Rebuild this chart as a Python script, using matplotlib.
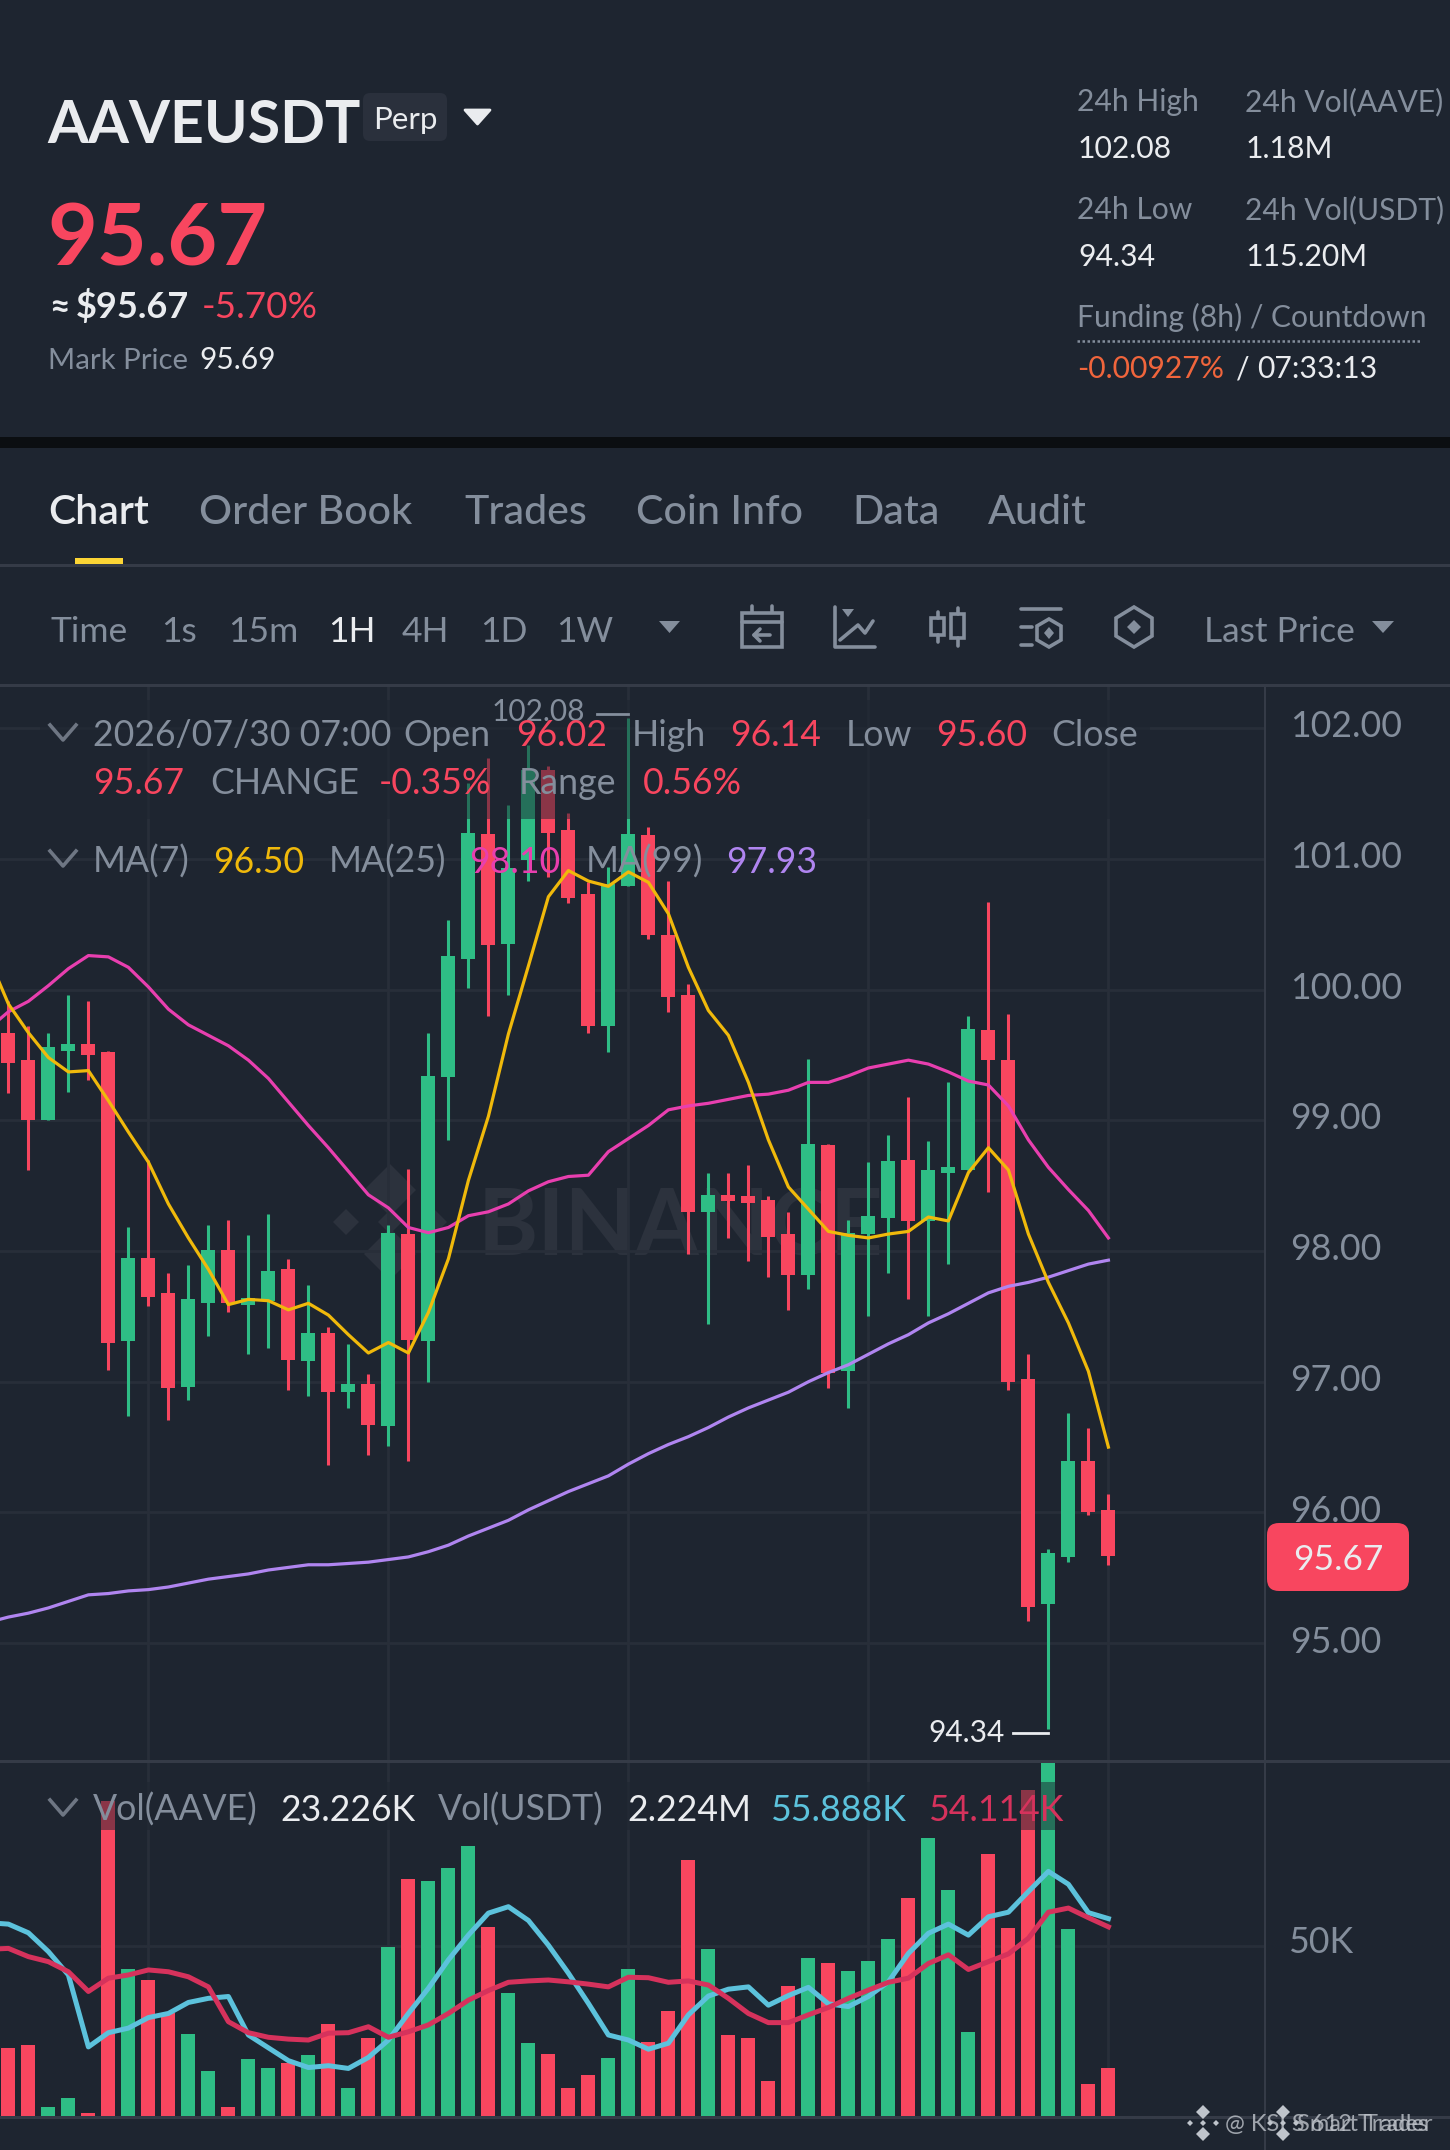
import numpy as np
import matplotlib
matplotlib.use("Agg")
import matplotlib.pyplot as plt
from matplotlib.patches import Rectangle, FancyBboxPatch, Polygon

# ---------- data ----------
opens = [99.67,99.46,99.00,99.53,99.58,99.52,97.31,97.95,97.68,96.96,97.60,98.01,97.59,97.62,97.86,97.16,97.37,96.92,96.98,96.66,98.13,97.31,99.33,100.23,101.19,100.35,100.99,101.68,101.22,100.73,99.72,100.79,101.18,100.42,99.96,98.30,98.43,98.42,98.39,98.13,97.82,98.81,97.08,98.13,98.25,98.70,98.23,98.60,98.62,99.69,99.46,97.02,95.30,95.66,96.39,96.02]
highs = [99.91,99.72,99.67,99.96,99.91,99.53,98.18,98.70,97.83,97.89,98.20,98.24,98.12,98.28,97.94,97.74,97.42,97.29,97.06,98.20,98.63,99.67,100.53,101.58,101.77,101.41,101.87,101.71,101.35,100.82,100.94,102.08,101.24,100.83,100.04,98.60,98.60,98.66,98.42,98.30,99.47,98.82,98.24,98.68,98.89,99.18,98.84,99.29,99.80,100.67,99.81,97.21,95.72,96.76,96.65,96.14]
lows = [99.21,98.62,99.00,99.22,99.31,97.09,96.74,97.58,96.71,96.86,97.35,97.53,97.21,97.26,96.94,96.89,96.36,96.80,96.44,96.51,96.39,97.00,98.85,100.01,99.80,99.96,100.83,100.86,100.66,99.67,99.52,100.79,100.39,99.83,97.98,97.44,98.10,97.92,97.80,97.55,97.71,96.95,96.80,97.50,97.83,97.63,97.50,97.90,98.62,98.45,96.94,95.17,94.34,95.62,95.98,95.60]
closes = [99.44,99.00,99.56,99.58,99.50,97.30,97.95,97.65,96.95,97.63,98.01,97.60,97.64,97.85,97.17,97.37,96.92,96.98,96.67,98.14,97.32,99.34,100.26,101.20,100.34,100.93,101.68,101.20,100.70,99.72,100.81,101.19,100.42,99.94,98.30,98.43,98.38,98.37,98.11,97.82,98.82,97.07,98.14,98.27,98.69,98.23,98.62,98.64,99.70,99.46,97.00,95.28,95.69,96.39,96.00,95.67]
ma7 = [100.25,99.89,99.67,99.48,99.37,99.38,99.15,98.91,98.68,98.36,98.10,97.86,97.59,97.63,97.62,97.55,97.60,97.51,97.36,97.22,97.30,97.22,97.53,97.94,98.54,99.03,99.66,100.18,100.71,100.91,100.83,100.79,100.90,100.82,100.58,100.17,99.84,99.65,99.29,98.85,98.49,98.32,98.15,98.12,98.10,98.13,98.15,98.26,98.23,98.60,98.79,98.62,98.13,97.76,97.45,97.08,96.50]
ma25 = [99.70,99.83,99.91,100.03,100.16,100.26,100.25,100.17,100.02,99.85,99.73,99.65,99.57,99.46,99.32,99.14,98.96,98.79,98.61,98.43,98.33,98.18,98.14,98.18,98.27,98.30,98.36,98.46,98.53,98.57,98.58,98.76,98.86,98.96,99.08,99.11,99.13,99.16,99.19,99.20,99.23,99.29,99.29,99.34,99.40,99.43,99.46,99.43,99.37,99.30,99.27,99.11,98.85,98.64,98.47,98.31,98.10]
ma99 = [95.16,95.20,95.23,95.27,95.32,95.37,95.38,95.40,95.41,95.43,95.46,95.49,95.51,95.53,95.56,95.58,95.60,95.60,95.61,95.62,95.64,95.66,95.70,95.75,95.82,95.88,95.94,96.02,96.09,96.16,96.22,96.28,96.37,96.45,96.52,96.58,96.65,96.73,96.80,96.86,96.92,97.00,97.07,97.13,97.21,97.29,97.36,97.45,97.52,97.60,97.68,97.73,97.76,97.80,97.85,97.90,97.93]
volumes = [27.6,28.3,14.7,16.7,13.4,81.6,44.8,42.6,35.2,30.7,22.6,14.8,25.3,23.4,24.3,26.1,32.9,18.9,29.8,49.6,64.5,64.0,67.0,71.8,54.1,39.6,28.7,26.3,18.9,21.7,25.5,44.8,29.0,35.7,68.7,49.3,30.5,29.9,20.4,41.2,47.3,46.3,44.5,46.7,51.5,60.4,73.4,62.2,31.2,70.0,53.9,83.9,91.0,53.6,19.7,23.2]
vol_ma7 = [55.0,54.7,52.8,48.7,43.6,27.9,31.0,32.0,34.3,35.2,37.6,38.5,38.9,30.5,27.7,24.9,23.4,23.8,23.2,25.6,29.4,35.2,40.7,46.9,52.3,57.1,58.5,55.5,50.1,44.0,37.4,30.5,29.4,27.4,28.7,34.9,39.0,40.5,41.0,37.0,39.1,40.9,37.3,36.7,38.9,42.1,48.3,52.7,54.7,52.3,56.3,57.3,61.8,66.2,63.4,57.2,55.9]
vol_ma25 = [49.2,49.4,47.6,46.5,44.3,40.0,42.9,43.6,44.7,44.3,43.2,41.0,33.4,31.0,30.0,29.6,29.4,30.9,31.0,32.3,30.0,31.2,32.7,35.2,38.1,40.2,42.0,42.3,42.5,42.1,41.6,41.0,43.1,43.0,42.0,42.3,41.4,38.5,35.2,33.2,33.2,34.9,36.5,38.5,40.3,42.0,42.9,46.1,48.0,44.8,46.5,48.2,51.6,57.3,58.2,56.1,54.1]
price_ticks = [102, 101, 100, 99, 98, 97, 96, 95]
price_labels = ["102.00", "101.00", "100.00", "99.00", "98.00", "97.00", "96.00", "95.00"]
vgrid_candles = [7, 19, 31, 43, 55]

BG = "#1E2530"; GRID = "#282E39"; SEP = "#353B47"
RED = "#F8465F"; GREEN = "#2EBD85"; GRAY = "#848E9C"; WHITE = "#EAECEF"
C7 = "#F0B90B"; C25 = "#E83FAF"; C99 = "#B085F0"; VC7 = "#5CC2DC"; VC25 = "#D6325C"

plt.rcParams["font.family"] = ["Lato", "DejaVu Sans"]
W, H = 1450, 2150
fig = plt.figure(figsize=(W / 100, H / 100), dpi=100, facecolor=BG)

def pane(x0, y0, x1, y1, z=1):
    a = fig.add_axes([x0 / W, 1 - y1 / H, (x1 - x0) / W, (y1 - y0) / H], zorder=z)
    a.set_facecolor("none")
    for s in a.spines.values():
        s.set_visible(False)
    a.tick_params(left=False, bottom=False, labelleft=False, labelbottom=False)
    return a

# ---------- price pane ----------
ax = pane(0, 686, 1265, 1761, 2)
ax.set_xlim(-0.42, 62.83)
ax.set_ylim(94.099, 102.322)
ax.set_yticks(price_ticks)
ax.set_xticks(vgrid_candles)
ax.grid(True, color=GRID, lw=2.0, zorder=0)
ax.set_axisbelow(True)

idx = np.arange(len(opens))
o, h, l, c = map(np.array, (opens, highs, lows, closes))
cols = [GREEN if cc >= oo else RED for oo, cc in zip(o, c)]
ax.vlines(idx, l, h, colors=cols, lw=2.2, zorder=3)
ax.bar(idx, np.abs(c - o), bottom=np.minimum(o, c), width=0.7, color=cols, zorder=3)
xma = np.arange(-1, 56)
ax.plot(xma, ma99, color=C99, lw=2.3, zorder=4, solid_joinstyle="round")
ax.plot(xma, ma25, color=C25, lw=2.3, zorder=4, solid_joinstyle="round")
ax.plot(xma, ma7, color=C7, lw=2.3, zorder=4, solid_joinstyle="round")

# ---------- volume pane ----------
av = pane(0, 1761, 1265, 2117, 2)
av.set_xlim(-0.42, 62.83)
av.set_ylim(12.6, 90.3)
av.set_yticks([50])
av.set_xticks(vgrid_candles)
av.grid(True, color=GRID, lw=2.0, zorder=0)
av.set_axisbelow(True)
av.bar(idx, volumes, width=0.7, color=cols, zorder=3)
av.plot(xma, vol_ma7, color=VC7, lw=3.6, zorder=4)
av.plot(xma, vol_ma25, color=VC25, lw=3.6, zorder=5)

# ---------- overlay in pixel coordinates ----------
bgax = pane(0, 0, W, H, 1)
bgax.set_xlim(0, W); bgax.set_ylim(H, 0)
ov = pane(0, 0, W, H, 5)
ov.set_xlim(0, W); ov.set_ylim(H, 0)

# watermark (under candles)
MARK = "#2C323D"
bgax.text(478, 1255, "BINANCE", fontsize=66, fontweight="bold", color=MARK, va="baseline", ha="left")
for cx, cy, s in [(390, 1190, 26), (346, 1222, 13), (434, 1222, 13), (390, 1222, 12), (390, 1254, 26)]:
    bgax.add_patch(Polygon([(cx - s, cy), (cx, cy - s), (cx + s, cy), (cx, cy + s)], color=MARK, lw=0))

def T(x, y, s, color=GRAY, size=25.7, **kw):
    kw.setdefault("va", "baseline"); kw.setdefault("ha", "left")
    return ov.text(x, y, s, color=color, fontsize=size, **kw)

# header
ov.add_patch(Rectangle((0, 437), W, 11, color="#0B0E11", lw=0))
T(47, 143, "AAVEUSDT", WHITE, 42.5, fontweight="bold")
ov.add_patch(FancyBboxPatch((363, 93), 84, 48, boxstyle="round,pad=0,rounding_size=7", color="#2A303C", lw=0))
T(405, 129, "Perp", WHITE, 22.5, ha="center")
ov.add_patch(Polygon([(465, 110), (490, 110), (477.5, 124)], color=WHITE, ec=WHITE, lw=2, joinstyle="round"))
T(47, 265, "95.67", RED, 62, fontweight="bold")
T(49, 318, "≈", WHITE, 25.5, fontweight="bold")
T(76, 318, "$95.67", WHITE, 26, fontweight="bold")
T(202, 318, "-5.70%", RED, 26.5)
T(48, 369, "Mark Price", GRAY, 21.2)
T(199, 369, "95.69", WHITE, 21.5)
for x, y, lab, val in [(1077, 111, "24h High", "102.08"), (1245, 111, "24h Vol(AAVE)", "1.18M"),
                       (1077, 219, "24h Low", "94.34"), (1245, 219, "24h Vol(USDT)", "115.20M")]:
    T(x, y, lab, GRAY, 21.6)
    T(x + 1, y + 47.5, val, WHITE, 21.7)
T(1077, 327, "Funding (8h) / Countdown", GRAY, 21.6)
ov.plot([1077, 1422], [341, 341], color=GRAY, lw=1.8, ls=(0, (1, 1)))
T(1077, 378, "-0.00927%", "#F0653C", 21.7)
T(1236, 378, "/", WHITE, 21.7)
T(1257, 378, "07:33:13", WHITE, 21.7)

# tabs
for x, s, col, wgt, sz in [(48, "Chart", WHITE, "semibold", 29.5), (199, "Order Book", GRAY, "medium", 29.6),
                           (464, "Trades", GRAY, "medium", 29.6), (636, "Coin Info", GRAY, "medium", 29.6),
                           (852, "Data", GRAY, "medium", 29.6), (988, "Audit", GRAY, "medium", 29.6)]:
    T(x, 524, s, col, sz, fontweight=wgt)
ov.add_patch(Rectangle((75, 558), 48, 8, color="#FCD535", lw=0))
ov.add_patch(Rectangle((0, 564), W, 3, color=SEP, lw=0))

# toolbar
for x, s, col in [(51, "Time", GRAY), (161, "1s", GRAY), (228, "15m", GRAY), (328, "1H", WHITE),
                  (402, "4H", GRAY), (480, "1D", GRAY), (556, "1W", GRAY), (1204, "Last Price", GRAY)]:
    T(x, 641.5, s, col, 25.5)
ov.add_patch(Polygon([(659, 621), (680, 621), (669.5, 633)], color=GRAY, lw=0))
ov.add_patch(Polygon([(1372, 621), (1394, 621), (1383, 633)], color=GRAY, lw=0))
ICON = dict(color=GRAY, lw=2.6, solid_capstyle="round")
# calendar
ov.add_patch(Rectangle((742, 613), 40, 34, fill=False, ec=GRAY, lw=2.6))
ov.plot([742, 782], [622, 622], **ICON)
ov.plot([752, 752], [606, 612], **ICON); ov.plot([772, 772], [606, 612], **ICON)
ov.plot([754, 770], [635, 635], **ICON); ov.plot([760, 754, 760], [629, 635, 641], **ICON)
# indicator
ov.plot([835, 835, 875], [607, 647, 647], **ICON)
ov.add_patch(Polygon([(842, 609), (854, 609), (848, 617)], color=GRAY, lw=0))
ov.plot([840, 858, 865, 873], [640, 625, 633, 621], **ICON)
# candles
for x, t, b, t2, b2 in [(938, 618, 635, 612, 642), (958, 614, 638, 608, 646)]:
    ov.add_patch(Rectangle((x - 6.5, t), 13, b - t, fill=False, ec=GRAY, lw=2.6))
    ov.plot([x, x], [t2, t], **ICON); ov.plot([x, x], [b, b2], **ICON)
# settings
ov.plot([1021, 1061], [609, 609], **ICON)
ov.plot([1021, 1032], [627, 627], **ICON); ov.plot([1021, 1032], [645, 645], **ICON)
ov.add_patch(Polygon([(1049, 619), (1061, 626), (1061, 640), (1049, 647), (1037, 640), (1037, 626)], fill=False, ec=GRAY, lw=2.6))
ov.add_patch(Polygon([(1049, 627), (1054, 633), (1049, 639), (1044, 633)], color=GRAY, lw=0))
# depth
ov.add_patch(Polygon([(1134, 607), (1152, 618), (1152, 636), (1134, 647), (1116, 636), (1116, 618)], fill=False, ec=GRAY, lw=2.6))
ov.add_patch(Polygon([(1134, 620), (1141, 627), (1134, 634), (1127, 627)], color=GRAY, lw=0))
ov.add_patch(Rectangle((0, 684), W, 3, color=SEP, lw=0))

# separators
ov.add_patch(Rectangle((0, 1760), W, 3, color=SEP, lw=0))
ov.add_patch(Rectangle((0, 2116), W, 3, color=SEP, lw=0))
ov.add_patch(Rectangle((1264, 687), 2, 1463, color=SEP, lw=0))

# high / low markers
T(492, 721, "102.08", GRAY, 21.5)
ov.plot([597, 628], [714, 714], color=GRAY, lw=2)
T(928, 1742, "94.34", WHITE, 21.5)
ov.plot([1013, 1048], [1733, 1733], color=WHITE, lw=2)

# legend fades
ov.add_patch(Rectangle((40, 700), 1110, 119, color=BG, alpha=0.5, lw=0))
ov.add_patch(Rectangle((40, 1782), 1040, 48, color=BG, alpha=0.5, lw=0))

def chev(x, y):
    ov.plot([x - 13, x, x + 13], [y - 8, y + 7, y - 8], color="#6E7683", lw=2.6)

chev(63, 733)
T(93, 746, "2026/07/30 07:00")
T(403, 746, "Open")
T(516, 746, "96.02", RED)
T(632, 746, "High")
T(730, 746, "96.14", RED)
T(846, 746, "Low")
T(936, 746, "95.60", RED)
T(1051, 746, "Close")
T(93, 794, "95.67", RED)
T(210, 794, "CHANGE")
T(379, 794, "-0.35%", RED)
T(519, 794, "Range")
T(643, 794, "0.56%", RED)
chev(63, 859)
T(93, 873, "MA(7)")
T(213, 873, "96.50", C7)
T(329, 873, "MA(25)")
T(469, 873, "98.10", C25)
T(586, 873, "MA(99)")
T(726, 873, "97.93", C99)
chev(63, 1808)
T(93, 1821, "Vol(AAVE)")
T(280, 1821, "23.226K", WHITE)
T(438, 1821, "Vol(USDT)")
T(627, 1821, "2.224M", WHITE)
T(771, 1821, "55.888K", VC7)
T(929, 1821, "54.114K", VC25)

# axis labels
for p, lab in zip(price_ticks, price_labels):
    T(1290, 727.5 + (102 - p) * 130.8 + 9.5, lab)
T(1289, 1953, "50K")
ov.add_patch(FancyBboxPatch((1267, 1523), 142, 68, boxstyle="round,pad=0,rounding_size=12", color=RED, lw=0))
T(1338, 1570, "95.67", WHITE, 25.5, ha="center")

# credit, two layers as in the picture
CR = "#BFC4CB"
T(1225, 2131, "@ KSI S 612 Trades", CR, 17, alpha=0.8)
T(1297, 2131, "Smart Trader", CR, 17, alpha=0.8)
for cx in (1203, 1283):
    for dx, dy, s in [(0, -11, 7), (-13, 0, 3), (13, 0, 3), (0, 0, 3), (0, 11, 7)]:
        ov.add_patch(Polygon([(cx + dx - s, 2123 + dy), (cx + dx, 2123 + dy - s), (cx + dx + s, 2123 + dy), (cx + dx, 2123 + dy + s)], color=CR, lw=0))

fig.savefig("out.png", dpi=100, facecolor=BG)
